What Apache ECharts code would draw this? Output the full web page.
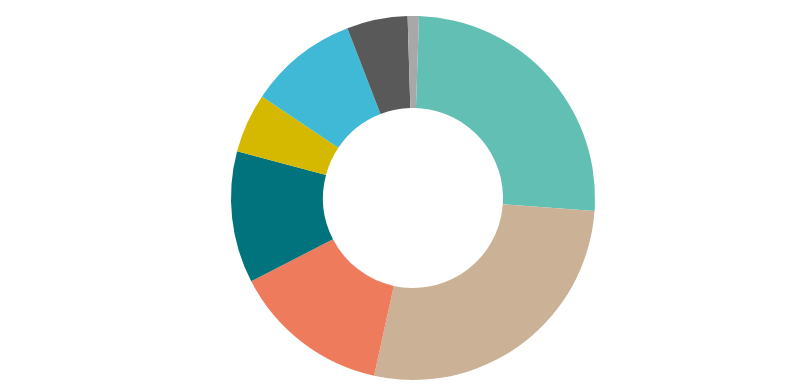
<!DOCTYPE html>
<html>
<head>
<meta charset="utf-8">
<script src="https://cdn.jsdelivr.net/npm/echarts@6/dist/echarts.min.js"></script>
<style>html,body{margin:0;padding:0;background:#fff;}#c{width:800px;height:391px;}</style>
</head>
<body>
<div id="c"></div>
<script>
const categories = ['Segment 1','Segment 2','Segment 3','Segment 4','Segment 5','Segment 6','Segment 7','Segment 8'];
const values = [25.6, 27.3, 14.0, 11.7, 5.3, 9.7, 5.4, 1.0];
const colors = ['#62bfb3','#cbb196','#ef7b5d','#00737c','#d5b800','#3fb9d5','#595959','#a8a8a8'];

const chart = echarts.init(document.getElementById('c'), null, {renderer:'canvas'});
chart.setOption({
  animation: false,
  backgroundColor: '#ffffff',
  series: [{
    type: 'pie',
    center: [413, 198],
    radius: [90, 182],
    startAngle: 88.1,
    clockwise: true,
    label: {show: false},
    labelLine: {show: false},
    emphasis: {disabled: true},
    itemStyle: {borderWidth: 0},
    data: categories.map((n, i) => ({name: n, value: values[i], itemStyle: {color: colors[i]}}))
  }]
});
</script>
</body>
</html>
